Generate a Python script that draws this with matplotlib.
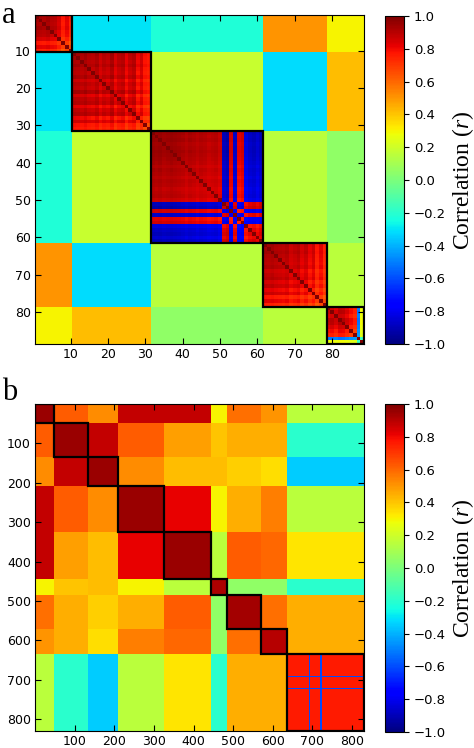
import numpy as np
import matplotlib
matplotlib.use("Agg")
import matplotlib.pyplot as plt
from matplotlib.patches import Rectangle

plt.rcParams['mathtext.fontset'] = 'custom'
plt.rcParams['mathtext.rm'] = 'Liberation Serif'
plt.rcParams['mathtext.it'] = 'Liberation Serif:italic'

# ---------- Panel a data ----------
a_bounds = [0, 10, 31, 61, 78, 88]
a_off = [[None, -0.30, -0.22, 0.50, 0.30],
         [-0.30, None, 0.18, -0.32, 0.42],
         [-0.22, 0.18, None, 0.15, 0.05],
         [0.50, -0.32, 0.15, None, 0.15],
         [0.30, 0.42, 0.05, 0.15, None]]
a_load = [
    [0.97, 0.96, 0.95, 0.97, 0.94, 0.93, 0.88, 0.80, 0.86, 0.78],
    [0.97, 0.96, 0.95, 0.97, 0.94, 0.93, 0.96, 0.90, 0.94, 0.92, 0.97, 0.88, 0.93, 0.95, 0.86,
     0.92, 0.95, 0.84, 0.90, 0.82, 0.80],
    [0.98, 0.97, 0.98, 0.96, 0.97, 0.98, 0.97, 0.96, 0.95, 0.93, 0.95, 0.94, 0.92, 0.94, 0.93,
     0.91, 0.92, 0.93, 0.90, -0.92, -0.95, 0.88, -0.90, 0.85, 0.88, -0.86, -0.90, -0.92, -0.88, -0.92],
    [0.97, 0.96, 0.97, 0.95, 0.94, 0.93, 0.95, 0.90, 0.92, 0.94, 0.88, 0.92, 0.85, 0.90, 0.80,
     0.86, 0.78],
    [0.92, 0.94, 0.90, 0.96, 0.95, 0.90, 0.85, 0.80, -0.55, 0.30],
]

# ---------- Panel b data ----------
b_bounds = [0, 48, 134, 209, 326, 445, 485, 571, 635, 830]
b_diag = [0.95, 0.95, 0.95, 0.95, 0.95, 0.92, 0.93, 0.90, 0.76]
b_off = [[None, 0.62, 0.52, 0.88, 0.88, 0.30, 0.58, 0.50, 0.15],
         [0.62, None, 0.88, 0.62, 0.48, 0.40, 0.45, 0.45, -0.20],
         [0.52, 0.88, None, 0.52, 0.42, 0.42, 0.38, 0.35, -0.35],
         [0.88, 0.62, 0.52, None, 0.82, 0.30, 0.45, 0.55, 0.15],
         [0.88, 0.48, 0.42, 0.82, None, 0.15, 0.62, 0.60, 0.33],
         [0.30, 0.40, 0.42, 0.30, 0.15, None, 0.05, 0.05, -0.20],
         [0.58, 0.45, 0.38, 0.45, 0.62, 0.05, None, 0.58, 0.45],
         [0.50, 0.45, 0.35, 0.55, 0.60, 0.05, 0.58, None, 0.45],
         [0.15, -0.20, -0.35, 0.15, 0.33, -0.20, 0.45, 0.45, None]]
b_lines = [690, 720]   # blue stripes inside last block

def build_a():
    n = a_bounds[-1]
    M = np.zeros((n, n))
    for i in range(5):
        for j in range(5):
            r0, r1 = a_bounds[i], a_bounds[i+1]
            c0, c1 = a_bounds[j], a_bounds[j+1]
            if i == j:
                l = np.array(a_load[i])
                M[r0:r1, c0:c1] = np.outer(l, l)
                np.fill_diagonal(M[r0:r1, c0:c1], 1.0)
            else:
                M[r0:r1, c0:c1] = a_off[i][j]
    return M

def build_b():
    n = b_bounds[-1]
    M = np.zeros((n, n))
    k = len(b_diag)
    for i in range(k):
        for j in range(k):
            r0, r1 = b_bounds[i], b_bounds[i+1]
            c0, c1 = b_bounds[j], b_bounds[j+1]
            M[r0:r1, c0:c1] = b_diag[i] if i == j else b_off[i][j]
    s = b_bounds[-2]
    for L in b_lines:
        M[s:, L:L+3] = -0.6
        M[L:L+3, s:] = -0.6
    return M

fig = plt.figure(figsize=(4.74, 7.48), dpi=100)
W, H = 474, 748

def ax_at(x0, y0, x1, y1):
    return fig.add_axes([x0/W, 1-y1/H, (x1-x0)/W, (y1-y0)/H])

def style(ax):
    ax.tick_params(direction='in', top=True, right=True, labelsize=9, length=4, pad=3)

lab = r'Correlation $\mathit{(r)}$'
cticks = np.round(np.arange(-1, 1.01, 0.2), 1)
clabels = [f'{abs(v) if v == 0 else v:.1f}'.replace('-', '\u2212') for v in cticks]

def cbar(im, cax):
    cb = fig.colorbar(im, cax=cax, ticks=cticks)
    cb.ax.tick_params(labelsize=9.5)
    cb.ax.set_yticklabels(clabels)
    cb.set_label(lab, fontsize=17, family='Liberation Serif', labelpad=3)

# panel a
axa = ax_at(35, 15, 364, 344)
Ma = build_a()
ima = axa.imshow(Ma, cmap='jet', vmin=-1, vmax=1, extent=(0.5, 88.5, 88.5, 0.5),
                 interpolation='nearest', aspect='auto')
for i in range(5):
    s0, s1 = a_bounds[i] + 0.5, a_bounds[i+1] + 0.5
    axa.add_patch(Rectangle((s0, s0), s1 - s0, s1 - s0, fill=False, ec='black', lw=1.6))
axa.set_xticks(range(10, 90, 10)); axa.set_yticks(range(10, 90, 10))
style(axa)
cbar(ima, ax_at(385, 16, 404, 344))
fig.text(2/W, 1-1/H, 'a', fontsize=22, family='Liberation Serif', va='top')

# panel b
axb = ax_at(35, 404, 364, 731)
Mb = build_b()
imb = axb.imshow(Mb, cmap='jet', vmin=-1, vmax=1, extent=(0, 830, 830, 0),
                 interpolation='nearest', aspect='auto')
for i in range(len(b_diag)):
    s0, s1 = b_bounds[i], b_bounds[i+1]
    axb.add_patch(Rectangle((s0, s0), s1 - s0, s1 - s0, fill=False, ec='black', lw=1.6))
axb.set_xticks(range(100, 900, 100)); axb.set_yticks(range(100, 900, 100))
style(axb)
cbar(imb, ax_at(385, 404, 404, 732))
fig.text(2/W, 1-378/H, 'b', fontsize=22, family='Liberation Serif', va='top')

fig.savefig('out.png', dpi=100)
